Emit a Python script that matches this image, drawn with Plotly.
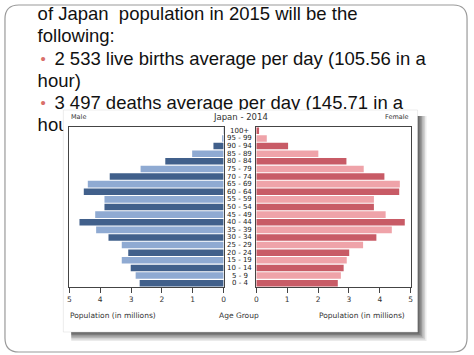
import plotly.graph_objects as go

W, H = 474, 355

age_groups = ["0 - 4", "5 - 9", "10 - 14", "15 - 19", "20 - 24", "25 - 29", "30 - 34",
              "35 - 39", "40 - 44", "45 - 49", "50 - 54", "55 - 59", "60 - 64", "65 - 69",
              "70 - 74", "75 - 79", "80 - 84", "85 - 89", "90 - 94", "95 - 99", "100+"]
male = [2.72, 2.85, 3.01, 3.30, 3.09, 3.30, 3.73, 4.13, 4.67, 4.16, 3.86, 3.86, 4.53, 4.40,
        3.69, 2.69, 1.89, 1.02, 0.33, 0.05, 0.01]
female = [2.64, 2.74, 2.83, 2.93, 3.01, 3.46, 3.89, 4.39, 4.81, 4.19, 3.81, 3.81, 4.63, 4.65,
          4.15, 3.48, 2.92, 2.01, 1.03, 0.34, 0.09]
tick_vals = [0, 1, 2, 3, 4, 5]

slide_lines = [
    "of Japan  population in 2015 will be the",
    "following:",
    "2 533 live births average per day (105.56 in a",
    "hour)",
    "3 497 deaths average per day (145.71 in a",
    "hour)",
]
bullets = [False, False, True, False, True, False]

male_colors = ["#41608b" if i % 2 == 0 else "#8faad2" for i in range(len(age_groups))]
female_colors = ["#c85b66" if i % 2 == 0 else "#efa3a9" for i in range(len(age_groups))]


def px(x):
    return x / W


def py(y):
    return 1 - y / H


fig = go.Figure()

# --- slide layer (full-figure pixel axes: x, y) ---
line_y = [15, 37, 60, 82, 104, 126]
text_x = [53 if b else 36 for b in bullets]
fig.add_trace(go.Scatter(x=text_x, y=line_y, text=slide_lines, mode="text", textposition="middle right",
                         textfont=dict(family="Liberation Sans, Arial", size=18.5, color="#111111"),
                         xaxis="x", yaxis="y", showlegend=False, hoverinfo="skip"))
bullet_y = [yy for yy, b in zip(line_y, bullets) if b]
fig.add_trace(go.Scatter(x=[39] * len(bullet_y), y=bullet_y, text=["•"] * len(bullet_y), mode="text",
                         textposition="middle right",
                         textfont=dict(family="Liberation Sans, Arial", size=15, color="#d9706a"),
                         xaxis="x", yaxis="y", showlegend=False, hoverinfo="skip"))
# white picture frame (covers the slide text behind it)
fig.add_trace(go.Scatter(x=[62, 420, 420, 62, 62], y=[110, 110, 332, 332, 110], mode="lines", fill="toself",
                         fillcolor="white", line=dict(color="#d8d8d8", width=0.5),
                         xaxis="x", yaxis="y", showlegend=False, hoverinfo="skip"))

# --- pyramid ---
fig.add_trace(go.Bar(x=male, y=age_groups, orientation="h", marker=dict(color=male_colors, line=dict(width=0)),
                     xaxis="x2", yaxis="y2", showlegend=False, hoverinfo="skip"))
fig.add_trace(go.Bar(x=female, y=age_groups, orientation="h", marker=dict(color=female_colors, line=dict(width=0)),
                     xaxis="x3", yaxis="y3", showlegend=False, hoverinfo="skip"))

shapes = []
# slide rounded border
x0, y0, x1, y1, r = 3, 5, 470, 352, 14
path = (f"M {px(x0 + r)},{py(y0)} L {px(x1 - r)},{py(y0)} Q {px(x1)},{py(y0)} {px(x1)},{py(y0 + r)} "
        f"L {px(x1)},{py(y1 - r)} Q {px(x1)},{py(y1)} {px(x1 - r)},{py(y1)} "
        f"L {px(x0 + r)},{py(y1)} Q {px(x0)},{py(y1)} {px(x0)},{py(y1 - r)} "
        f"L {px(x0)},{py(y0 + r)} Q {px(x0)},{py(y0)} {px(x0 + r)},{py(y0)} Z")
shapes.append(dict(type="path", path=path, xref="paper", yref="paper",
                   line=dict(color="#9a9a9a", width=1.2), fillcolor="rgba(0,0,0,0)", layer="below"))
# shadow of the picture
for i, op in enumerate([0.10, 0.14, 0.18, 0.24, 0.30, 0.36]):
    d = 9 - i * 1.5
    shapes.append(dict(type="rect", xref="paper", yref="paper",
                       x0=px(70), x1=px(420 + d), y0=py(332 + d), y1=py(116),
                       fillcolor=f"rgba(60,60,60,{op})", line=dict(width=0), layer="below"))

annotations = []
small = dict(family="DejaVu Sans", size=7.5, color="#333333")
annotations.append(dict(text="Male", x=px(68), y=py(117), xref="paper", yref="paper", xanchor="left",
                        yanchor="middle", showarrow=False, font=dict(family="DejaVu Sans", size=6.5, color="#333")))
annotations.append(dict(text="Female", x=px(413), y=py(117), xref="paper", yref="paper", xanchor="right",
                        yanchor="middle", showarrow=False, font=dict(family="DejaVu Sans", size=6.5, color="#333")))
annotations.append(dict(text="Japan - 2014", x=px(241), y=py(117), xref="paper", yref="paper", xanchor="center",
                        yanchor="middle", showarrow=False, font=dict(family="DejaVu Sans", size=8.5, color="#333")))
annotations.append(dict(text="Population (in millions)", x=px(67), y=py(315), xref="paper", yref="paper",
                        xanchor="left", yanchor="middle", showarrow=False, font=small))
annotations.append(dict(text="Age Group", x=px(240), y=py(315), xref="paper", yref="paper",
                        xanchor="center", yanchor="middle", showarrow=False, font=small))
annotations.append(dict(text="Population (in millions)", x=px(409), y=py(315), xref="paper", yref="paper",
                        xanchor="right", yanchor="middle", showarrow=False, font=small))
for ag in age_groups:
    annotations.append(dict(text=ag, x=px(240.5), y=ag, xref="paper", yref="y2", xanchor="center",
                            yanchor="middle", showarrow=False, borderpad=0,
                            font=dict(family="DejaVu Sans", size=7, color="#222")))

axis_common = dict(showline=True, linecolor="#444", linewidth=1, ticks="outside", ticklen=5, tickwidth=1,
                   tickcolor="#444", tickvals=tick_vals, showgrid=False, zeroline=False,
                   tickfont=dict(family="DejaVu Sans", size=7.5, color="#333"), fixedrange=True)
yaxis_common = dict(showline=True, linecolor="#444", linewidth=1, mirror=True, showticklabels=False,
                    ticks="", showgrid=False, range=[-0.5, 20.5], categoryorder="array",
                    categoryarray=age_groups, domain=[py(287), py(127)], fixedrange=True)

fig.update_layout(
    width=W, height=H, autosize=False,
    margin=dict(l=0, r=0, t=0, b=0),
    paper_bgcolor="white", plot_bgcolor="rgba(0,0,0,0)",
    bargap=0.14,
    xaxis=dict(domain=[0, 1], range=[0, W], visible=False, fixedrange=True),
    yaxis=dict(domain=[0, 1], range=[H, 0], visible=False, fixedrange=True),
    xaxis2=dict(domain=[px(68), px(224)], range=[5, 0], anchor="y2", mirror=True, **axis_common),
    xaxis3=dict(domain=[px(257), px(413)], range=[0, 5], anchor="y3", mirror=True, **axis_common),
    yaxis2=dict(anchor="x2", **yaxis_common),
    yaxis3=dict(anchor="x3", matches="y2", **yaxis_common),
    shapes=shapes, annotations=annotations,
)

fig.write_html("out.html", config=dict(displayModeBar=False, staticPlot=True),
               post_script="document.body.style.margin='0';document.body.style.overflow='hidden';")
